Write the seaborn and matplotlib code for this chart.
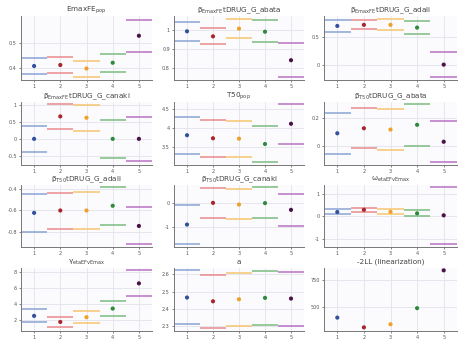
import matplotlib
matplotlib.use("Agg")
import matplotlib.pyplot as plt
import seaborn as sns
import pandas as pd
import numpy as np

runs = [1, 2, 3, 4, 5]
point_colors = ["#34509e", "#a8262c", "#eea029", "#2f8a3c", "#4a1049"]
line_colors = ["#8aa3d3", "#e88a8d", "#f5c56e", "#7cbc82", "#b971c2"]

titles = [
    r"EmaxFE$_{pop}$",
    r"$\beta_{EmaxFE}$tDRUG_G_abata",
    r"$\beta_{EmaxFE}$tDRUG_G_adali",
    r"$\beta_{EmaxFE}$tDRUG_G_canaki",
    r"T50$_{pop}$",
    r"$\beta_{T50}$tDRUG_G_abata",
    r"$\beta_{T50}$tDRUG_G_adali",
    r"$\beta_{T50}$tDRUG_G_canaki",
    r"$\omega_{etaEFvEmax}$",
    r"$\gamma_{etaEFvEmax}$",
    "a",
    "-2LL (linearization)",
]

# estimates, lower and upper bounds per parameter
emax_est = [0.407, 0.411, 0.397, 0.420, 0.528]
emax_lo = [0.375, 0.379, 0.365, 0.385, 0.464]
emax_hi = [0.440, 0.444, 0.428, 0.457, 0.593]

bea_est = [0.991, 0.965, 1.005, 0.989, 0.842]
bea_lo = [0.940, 0.925, 0.956, 0.935, 0.756]
bea_hi = [1.040, 1.009, 1.056, 1.049, 0.932]

bead_est = [0.70, 0.72, 0.72, 0.67, 0.0]
bead_lo = [0.59, 0.65, 0.62, 0.55, -0.22]
bead_hi = [0.81, 0.81, 0.83, 0.79, 0.23]

bec_est = [0.0, 0.67, 0.63, 0.0, 0.0]
bec_lo = [-0.39, 0.30, 0.24, -0.56, -0.65]
bec_hi = [0.39, 1.05, 1.02, 0.56, 0.64]

t50_est = [3.81, 3.73, 3.72, 3.58, 4.11]
t50_lo = [3.32, 3.25, 3.24, 3.12, 3.58]
t50_hi = [4.30, 4.21, 4.19, 4.04, 4.62]

bta_est = [0.092, 0.127, 0.118, 0.151, 0.033]
bta_lo = [-0.052, -0.014, -0.026, 0.005, -0.106]
bta_hi = [0.235, 0.271, 0.259, 0.294, 0.176]

btd_est = [-0.622, -0.600, -0.600, -0.556, -0.744]
btd_lo = [-0.797, -0.772, -0.772, -0.731, -0.916]
btd_hi = [-0.450, -0.434, -0.431, -0.381, -0.572]

btc_est = [-0.89, 0.01, -0.06, 0.0, -0.28]
btc_lo = [-1.71, -0.60, -0.67, -0.63, -0.94]
btc_hi = [-0.08, 0.625, 0.57, 0.67, 0.36]

om_est = [0.20, 0.30, 0.21, 0.14, 0.05]
om_lo = [0.09, 0.20, 0.11, 0.00, -1.26]
om_hi = [0.33, 0.39, 0.33, 0.27, 1.33]

ga_est = [2.47, 1.70, 2.30, 3.40, 6.60]
ga_lo = [1.66, 1.02, 1.53, 2.43, 4.98]
ga_hi = [3.32, 2.38, 3.15, 4.34, 8.26]

a_est = [2.465, 2.443, 2.455, 2.463, 2.459]
a_lo = [2.310, 2.288, 2.298, 2.306, 2.300]
a_hi = [2.624, 2.598, 2.608, 2.620, 2.616]

ll_est = [403, 312, 341, 491, 844]

panels = [
    (emax_est, emax_lo, emax_hi, (0.351, 0.607), [0.4, 0.5]),
    (bea_est, bea_lo, bea_hi, (0.74, 1.07), [0.8, 0.9, 1.0]),
    (bead_est, bead_lo, bead_hi, (-0.278, 0.88), [0.0, 0.5]),
    (bec_est, bec_lo, bec_hi, (-0.78, 1.10), [-0.5, 0, 0.5, 1]),
    (t50_est, t50_lo, t50_hi, (3.03, 4.68), [3.5, 4, 4.5]),
    (bta_est, bta_lo, bta_hi, (-0.129, 0.31), [0.0, 0.2]),
    (btd_est, btd_lo, btd_hi, (-0.94, -0.3625), [-0.8, -0.6, -0.4]),
    (btc_est, btc_lo, btc_hi, (-1.82, 0.75), [-1, 0]),
    (om_est, om_lo, om_hi, (-1.38, 1.42), [-1, 0, 1]),
    (ga_est, ga_lo, ga_hi, (0.55, 8.55), [2, 4, 6, 8]),
    (a_est, a_lo, a_hi, (2.27, 2.637), [2.3, 2.4, 2.5, 2.6]),
    (ll_est, None, None, (278, 866), [500, 750]),
]

sns.set_theme(style="whitegrid")
plt.rcParams["font.family"] = ["DejaVu Sans"]
plt.rcParams["mathtext.default"] = "regular"

W, H = 474, 362
fig = plt.figure(figsize=(W / 100, H / 100), dpi=100)

col_left = [21, 174, 324]
col_right = [152, 304, 457]
row_top = [16, 102, 185, 268]
row_bot = [80, 165, 247, 331]

for i, (est, lo, hi, ylim, yticks) in enumerate(panels):
    r, c = divmod(i, 3)
    l = col_left[c] / W
    w = (col_right[c] - col_left[c]) / W
    b = 1 - row_bot[r] / H
    h = (row_bot[r] - row_top[r]) / H
    ax = fig.add_axes([l, b, w, h])
    ax.set_facecolor("#fbfbfe")
    df = pd.DataFrame({"run": runs, "est": est, "grp": [str(x) for x in runs]})
    if lo is not None:
        for k, x in enumerate(runs):
            ax.hlines([lo[k], hi[k]], x - 0.5, x + 0.5, colors=line_colors[k], lw=1.1, zorder=2)
    sns.scatterplot(data=df, x="run", y="est", hue="grp", palette=point_colors,
                    s=9, linewidth=0, legend=False, ax=ax, zorder=3)
    ax.set_xlim(0.5, 5.5)
    ax.set_ylim(*ylim)
    ax.set_xticks(runs)
    ax.set_yticks(yticks)
    ax.set_yticklabels(["{:g}".format(t) for t in yticks])
    ax.set_xlabel("")
    ax.set_ylabel("")
    ax.grid(True, color="#e3e3ec", lw=0.6)
    for s in ["top", "right"]:
        ax.spines[s].set_visible(False)
    for s in ["left", "bottom"]:
        ax.spines[s].set_visible(True)
        ax.spines[s].set_color("#777777")
        ax.spines[s].set_linewidth(0.7)
    ax.tick_params(axis="both", labelsize=3.5, colors="#555555", length=1.5,
                   width=0.5, pad=1.5, left=True, bottom=True)
    ax.set_title(titles[i], fontsize=5.2, color="#444444", pad=3)

fig.savefig("out.png", dpi=100, facecolor="white")
